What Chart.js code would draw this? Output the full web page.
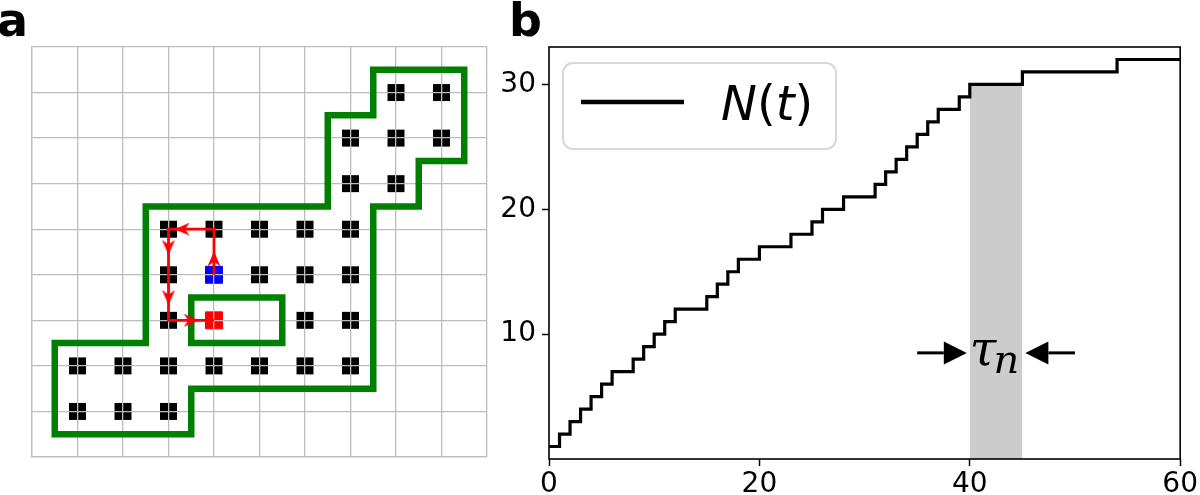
<!DOCTYPE html>
<html>
<head>
<meta charset="utf-8">
<script src="https://cdn.jsdelivr.net/npm/chart.js@4.4.0/dist/chart.umd.min.js"></script>
<style>
  html, body { margin: 0; padding: 0; background: #fff; }
  body { width: 1200px; height: 495px; position: relative; overflow: hidden; }
  #lattice { position: absolute; left: 0; top: 0; }
  #count { position: absolute; left: 490px; top: 0; }
  .tag { position: absolute; font: bold 46px "DejaVu Sans"; line-height: 1; color: #000; }
</style>
</head>
<body>
<canvas id="lattice" width="500" height="495"></canvas>
<canvas id="count" width="710" height="495"></canvas>
<div class="tag" style="left:-3px; top:-3px">a</div>
<div class="tag" style="left:509px; top:-3px">b</div>
<script>
// ---- panel a: lattice ----
const gridCols = 10;
const gridRows = 9;
const siteX = [8, 9, 7, 8, 9, 7, 8, 3, 4, 5, 6, 7, 3, 5, 6, 7, 3, 6, 7, 1, 2, 3, 4, 5, 6, 7, 1, 2, 3];
const siteY = [8, 8, 7, 7, 7, 6, 6, 5, 5, 5, 5, 5, 4, 4, 4, 4, 3, 3, 3, 2, 2, 2, 2, 2, 2, 2, 1, 1, 1];
const startSite = [4, 4];
const endSite = [4, 3];
// outer boundary (starts mid-edge so the corners all get a proper join)
const hullX = [8.5, 9.5, 9.5, 8.5, 8.5, 7.5, 7.5, 3.5, 3.5, 0.5, 0.5, 2.5, 2.5, 6.5, 6.5, 7.5, 7.5, 8.5];
const hullY = [8.5, 8.5, 6.5, 6.5, 5.5, 5.5, 1.5, 1.5, 0.5, 0.5, 2.5, 2.5, 5.5, 5.5, 7.5, 7.5, 8.5, 8.5];
const holeX = [4.5, 5.5, 5.5, 3.5, 3.5, 4.5];
const holeY = [3.5, 3.5, 2.5, 2.5, 3.5, 3.5];
// red walk and its arrow heads
const walkX = [4, 4, 3, 3, 4];
const walkY = [4, 5, 5, 3, 3];
const headX = [4, 3.3, 3, 3, 3.5];
const headY = [4.35, 5, 4.6, 3.5, 3];
const headAngle = [0, 270, 180, 180, 90];

// ---- panel b: counting process ----
const jumpTimes  = [0, 1, 2, 3, 4, 5, 6, 8, 9, 10, 11, 12, 15, 16, 17, 18, 20, 23, 25, 26, 28, 31, 32, 33, 34, 35, 36, 37, 39, 40, 45, 54, 60];
const jumpCounts = [1, 2, 3, 4, 5, 6, 7, 8, 9, 10, 11, 12, 13, 14, 15, 16, 17, 18, 19, 20, 21, 22, 23, 24, 25, 26, 27, 28, 29, 30, 31, 32, 32];
const xTicks = [0, 20, 40, 60];
const yTicks = [10, 20, 30];
const spanStart = 40, spanEnd = 45, spanTop = 30;
const arrowTails = [35, 50];
const arrowTips = [40, 45];
const arrowLevel = 8.5;
const tauAt = 42.3;
const seriesLabel = 'N(t)';

// arrow head image, pointing up, used as a point style
const headImg = document.createElement('canvas');
headImg.width = 16; headImg.height = 16;
(function () {
  const c = headImg.getContext('2d');
  c.fillStyle = '#ff0000';
  c.beginPath();
  c.moveTo(8, 0.5);
  c.lineTo(14.5, 15.5);
  c.lineTo(8, 11);
  c.lineTo(1.5, 15.5);
  c.closePath();
  c.fill();
})();

// datasets flagged "overlay" are drawn after the grid
const overlayPlugin = {
  id: 'overlay',
  beforeDatasetDraw(chart, args) {
    if (chart.data.datasets[args.index].overlay && !chart.$overlayPass) return false;
  },
  afterDraw(chart) {
    chart.$overlayPass = true;
    chart.data.datasets.forEach((ds, i) => {
      if (ds.overlay) chart.getDatasetMeta(i).controller.draw();
    });
    chart.$overlayPass = false;
  }
};

const pts = (xs, ys) => xs.map((x, i) => ({x: x, y: ys[i]}));
const gridGrey = '#bdbdbd';

new Chart(document.getElementById('lattice'), {
  type: 'scatter',
  data: {
    datasets: [
      { data: pts(siteX, siteY), pointStyle: 'rect', pointRadius: 12, pointBackgroundColor: '#000', pointBorderWidth: 0 },
      { data: [{x: startSite[0], y: startSite[1]}], pointStyle: 'rect', pointRadius: 12, pointBackgroundColor: '#0000ff', pointBorderColor: '#0000ff', pointBorderWidth: 1 },
      { data: [{x: endSite[0], y: endSite[1]}], pointStyle: 'rect', pointRadius: 12, pointBackgroundColor: '#ff0000', pointBorderColor: '#ff0000', pointBorderWidth: 1 },
      { data: pts(hullX, hullY), overlay: true, showLine: true, borderColor: '#008000', borderWidth: 6.5, borderJoinStyle: 'miter', pointRadius: 0 },
      { data: pts(holeX, holeY), overlay: true, showLine: true, borderColor: '#008000', borderWidth: 6.5, borderJoinStyle: 'miter', pointRadius: 0 },
      { data: pts(walkX, walkY), overlay: true, showLine: true, borderColor: '#ff0000', borderWidth: 2.8, borderJoinStyle: 'miter', pointRadius: 0 },
      { data: pts(headX, headY), overlay: true, pointStyle: headImg, pointRotation: headAngle, pointRadius: 8 }
    ]
  },
  options: {
    responsive: false,
    animation: false,
    events: [],
    layout: { padding: { left: 32, top: 47, right: 11, bottom: 38 } },
    plugins: { legend: { display: false }, tooltip: { enabled: false } },
    scales: {
      x: {
        type: 'linear', min: 0, max: gridCols,
        ticks: { display: false, stepSize: 1 },
        grid: { color: gridGrey, lineWidth: 1.3, drawTicks: false, z: 1 },
        border: { display: true, color: gridGrey, width: 1.3, z: 1 },
        afterFit: s => { s.height = 0; }
      },
      y: {
        type: 'linear', min: 0, max: gridRows,
        ticks: { display: false, stepSize: 1 },
        grid: { color: gridGrey, lineWidth: 1.3, drawTicks: false, z: 1 },
        border: { display: true, color: gridGrey, width: 1.3, z: 1 },
        afterFit: s => { s.width = 0; }
      }
    }
  },
  plugins: [overlayPlugin]
});

// frame, legend and the tau_n annotation for panel b
const panelB = {
  id: 'panelB',
  afterDatasetsDraw(chart) {
    const {ctx, chartArea: a, scales: {x, y}} = chart;
    ctx.save();
    // arrows
    const ay = y.getPixelForValue(arrowLevel);
    ctx.fillStyle = '#000';
    ctx.strokeStyle = '#000';
    ctx.lineWidth = 3;
    arrowTails.forEach((t0, i) => {
      const x0 = x.getPixelForValue(t0), x1 = x.getPixelForValue(arrowTips[i]) - Math.sign(arrowTips[i] - t0) * 3;
      const dir = Math.sign(x1 - x0), head = 23;
      ctx.beginPath();
      ctx.moveTo(x0, ay);
      ctx.lineTo(x1 - dir * head, ay);
      ctx.stroke();
      ctx.beginPath();
      ctx.moveTo(x1, ay);
      ctx.lineTo(x1 - dir * head, ay - 11.5);
      ctx.lineTo(x1 - dir * head, ay + 11.5);
      ctx.closePath();
      ctx.fill();
    });
    // tau_n
    ctx.font = 'italic 48px "DejaVu Serif"';
    const w1 = ctx.measureText('τ').width;
    ctx.font = 'italic 40px "DejaVu Serif"';
    const w2 = ctx.measureText('n').width;
    let tx = x.getPixelForValue(tauAt) - (w1 + w2 - 4) / 2;
    ctx.textBaseline = 'alphabetic';
    ctx.font = 'italic 48px "DejaVu Serif"';
    ctx.fillText('τ', tx, ay + 12);
    ctx.font = 'italic 40px "DejaVu Serif"';
    ctx.fillText('n', tx + w1 - 3, ay + 20);

    // frame
    ctx.lineWidth = 1.6;
    ctx.strokeStyle = '#000';
    ctx.strokeRect(a.left, a.top, a.right - a.left, a.bottom - a.top);

    // legend
    const lx = a.left + 14, ly = a.top + 16, lw = 273, lh = 86;
    ctx.beginPath();
    ctx.roundRect(lx, ly, lw, lh, 10);
    ctx.fillStyle = 'rgba(255,255,255,0.85)';
    ctx.fill();
    ctx.lineWidth = 2;
    ctx.strokeStyle = '#d8d8d8';
    ctx.stroke();
    const ds = chart.data.datasets[0];
    ctx.beginPath();
    ctx.moveTo(a.left + 32, a.top + 55);
    ctx.lineTo(a.left + 135, a.top + 55);
    ctx.lineWidth = 4.5;
    ctx.strokeStyle = ds.borderColor;
    ctx.stroke();
    ctx.fillStyle = '#000';
    let cx = a.left + 172;
    for (const ch of ds.label) {
      const isLetter = /[A-Za-z]/.test(ch);
      ctx.font = (isLetter ? 'italic ' : '') + '48px "DejaVu Sans"';
      ctx.fillText(ch, cx, a.top + 73);
      cx += ctx.measureText(ch).width;
    }
    ctx.restore();
  }
};

const tickSet = vals => s => { s.ticks = vals.map(v => ({value: v})); };

new Chart(document.getElementById('count'), {
  type: 'scatter',
  data: {
    datasets: [
      { label: seriesLabel, data: pts(jumpTimes, jumpCounts), showLine: true, stepped: true,
        borderColor: '#000', borderWidth: 3.2, borderJoinStyle: 'miter', pointRadius: 0, order: 0 },
      { label: 'span', data: [{x: spanStart, y: spanTop}, {x: spanEnd, y: spanTop}], showLine: true,
        fill: 'start', backgroundColor: '#cccccc', borderColor: 'rgba(0,0,0,0)', borderWidth: 0, pointRadius: 0, order: 1 }
    ]
  },
  options: {
    responsive: false,
    animation: false,
    events: [],
    layout: { padding: { left: 0, top: 47, right: 17, bottom: 0 } },
    plugins: { legend: { display: false }, tooltip: { enabled: false } },
    scales: {
      x: {
        type: 'linear', min: 0, max: 60,
        afterBuildTicks: tickSet(xTicks),
        ticks: { color: '#000', font: { family: 'DejaVu Sans', size: 28 }, padding: 2, maxRotation: 0, autoSkip: false },
        grid: { drawOnChartArea: false, drawTicks: true, tickLength: 7, tickWidth: 1.5, tickColor: '#000' },
        border: { display: false },
        afterFit: s => { s.height = 36; }
      },
      y: {
        type: 'linear', min: 0, max: 33,
        afterBuildTicks: tickSet(yTicks),
        ticks: { color: '#000', font: { family: 'DejaVu Sans', size: 28 }, padding: 6, autoSkip: false },
        grid: { drawOnChartArea: false, drawTicks: true, tickLength: 7, tickWidth: 1.5, tickColor: '#000' },
        border: { display: false },
        afterFit: s => { s.width = 59; }
      }
    }
  },
  plugins: [panelB]
});
</script>
</body>
</html>
